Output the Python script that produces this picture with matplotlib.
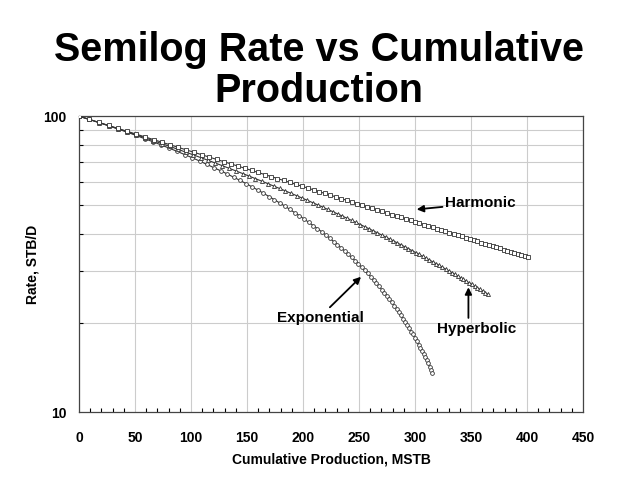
import matplotlib
matplotlib.use("Agg")
import matplotlib.pyplot as plt
from matplotlib.ticker import FixedLocator, NullFormatter, MultipleLocator

plt.rcParams['font.family'] = ['Liberation Sans', 'DejaVu Sans']

# Exponential decline (circles)
exp_np = [0, 9.01, 17.80, 26.37, 34.73, 42.89, 50.84, 58.60, 66.16, 73.54, 80.74, 87.76, 94.60,
          101.28, 107.79, 114.14, 120.33, 126.37, 132.27, 138.01, 143.62, 149.08, 154.41, 159.61,
          164.68, 169.63, 174.45, 179.16, 183.74, 188.22, 192.58, 196.84, 200.99, 205.05, 209.00,
          212.85, 216.60, 220.27, 223.84, 227.33, 230.72, 234.04, 237.27, 240.43, 243.50, 246.50,
          249.43, 252.28, 255.07, 257.78, 260.43, 263.01, 265.53, 267.98, 270.38, 272.71, 274.99,
          277.21, 279.38, 281.50, 283.56, 285.57, 287.53, 289.44, 291.31, 293.13, 294.90, 296.63,
          298.32, 299.97, 301.57, 303.14, 304.67, 306.15, 307.61, 309.03, 310.41, 311.75, 313.07,
          314.35, 315.60]
exp_q = [100.0, 97.5, 95.1, 92.8, 90.5, 88.3, 86.1, 83.9, 81.9, 79.9, 77.9, 76.0, 74.1, 72.3, 70.5,
         68.7, 67.0, 65.4, 63.8, 62.2, 60.7, 59.2, 57.7, 56.3, 54.9, 53.5, 52.2, 50.9, 49.7, 48.4,
         47.2, 46.1, 44.9, 43.8, 42.7, 41.7, 40.7, 39.7, 38.7, 37.7, 36.8, 35.9, 35.0, 34.1, 33.3,
         32.5, 31.7, 30.9, 30.1, 29.4, 28.7, 27.9, 27.3, 26.6, 25.9, 25.3, 24.7, 24.1, 23.5, 22.9,
         22.3, 21.8, 21.2, 20.7, 20.2, 19.7, 19.2, 18.7, 18.3, 17.8, 17.4, 16.9, 16.5, 16.1, 15.7,
         15.3, 15.0, 14.6, 14.2, 13.9, 13.5]

# Hyperbolic decline (triangles)
hyp_np = [0, 9.01, 17.80, 26.38, 34.76, 42.94, 50.93, 58.74, 66.36, 73.82, 81.11, 88.24, 95.21,
          102.04, 108.72, 115.26, 121.67, 127.94, 134.08, 140.10, 146.00, 151.78, 157.45, 163.01,
          168.46, 173.81, 179.06, 184.21, 189.26, 194.22, 199.09, 203.87, 208.57, 213.19, 217.72,
          222.17, 226.55, 230.85, 235.08, 239.24, 243.33, 247.35, 251.31, 255.20, 259.03, 262.80,
          266.51, 270.16, 273.75, 277.28, 280.77, 284.20, 287.58, 290.90, 294.18, 297.41, 300.59,
          303.72, 306.81, 309.86, 312.86, 315.81, 318.73, 321.61, 324.44, 327.24, 330.00, 332.72,
          335.41, 338.06, 340.67, 343.25, 345.79, 348.30, 350.78, 353.23, 355.64, 358.03, 360.38,
          362.71, 365.00]
hyp_q = [100.0, 97.55, 95.18, 92.90, 90.70, 88.58, 86.53, 84.56, 82.64, 80.80, 79.01, 77.29, 75.61,
         74.00, 72.43, 70.91, 69.44, 68.02, 66.64, 65.30, 64.00, 62.74, 61.51, 60.33, 59.17, 58.05,
         56.96, 55.90, 54.87, 53.87, 52.89, 51.94, 51.02, 50.12, 49.25, 48.39, 47.56, 46.75, 45.96,
         45.19, 44.44, 43.71, 43.00, 42.30, 41.62, 40.96, 40.31, 39.68, 39.06, 38.46, 37.87, 37.29,
         36.73, 36.18, 35.64, 35.12, 34.60, 34.10, 33.61, 33.12, 32.65, 32.19, 31.74, 31.30, 30.86,
         30.44, 30.02, 29.62, 29.22, 28.83, 28.44, 28.07, 27.70, 27.34, 26.99, 26.64, 26.30, 25.96,
         25.64, 25.32, 25.00]

# Harmonic decline (squares)
har_np = [0, 9.01, 17.81, 26.40, 34.79, 42.99, 51.01, 58.86, 66.55, 74.07, 81.45, 88.68, 95.76,
          102.71, 109.54, 116.23, 122.81, 129.27, 135.62, 141.86, 148.00, 154.03, 159.96, 165.80,
          171.55, 177.21, 182.78, 188.27, 193.68, 199.01, 204.26, 209.44, 214.54, 219.58, 224.54,
          229.44, 234.28, 239.05, 243.76, 248.41, 253.00, 257.53, 262.01, 266.44, 270.81, 275.13,
          279.40, 283.62, 287.79, 291.91, 295.99, 300.02, 304.01, 307.96, 311.86, 315.73, 319.55,
          323.33, 327.07, 330.78, 334.45, 338.08, 341.67, 345.24, 348.76, 352.25, 355.71, 359.14,
          362.54, 365.90, 369.23, 372.54, 375.81, 379.06, 382.27, 385.46, 388.62, 391.75, 394.86,
          397.94, 400.99]
har_q = [100.0, 97.56, 95.24, 93.02, 90.91, 88.89, 86.96, 85.11, 83.33, 81.63, 80.00, 78.43, 76.92,
         75.47, 74.07, 72.73, 71.43, 70.18, 68.97, 67.80, 66.67, 65.57, 64.52, 63.49, 62.50, 61.54,
         60.61, 59.70, 58.82, 57.97, 57.14, 56.34, 55.56, 54.79, 54.05, 53.33, 52.63, 51.95, 51.28,
         50.63, 50.00, 49.38, 48.78, 48.19, 47.62, 47.06, 46.51, 45.98, 45.45, 44.94, 44.44, 43.96,
         43.48, 43.01, 42.55, 42.11, 41.67, 41.24, 40.82, 40.40, 40.00, 39.60, 39.22, 38.83, 38.46,
         38.10, 37.74, 37.38, 37.04, 36.70, 36.36, 36.04, 35.71, 35.40, 35.09, 34.78, 34.48, 34.19,
         33.90, 33.61, 33.33]

x_ticks = [0, 50, 100, 150, 200, 250, 300, 350, 400, 450]
y_ticks = [10, 100]

fig = plt.figure(figsize=(6.38, 4.78), dpi=100)
ax = fig.add_axes([0.1238, 0.138, 0.79, 0.619])

common = dict(color='#333333', lw=0.8, mfc='white', mec='#333333', mew=0.6, zorder=3)
ax.plot(exp_np, exp_q, marker='o', ms=2.7, **common)
ax.plot(hyp_np, hyp_q, marker='^', ms=2.9, **common)
ax.plot(har_np, har_q, marker='s', ms=2.5, **common)

ax.set_yscale('log')
ax.set_xlim(0, 450)
ax.set_ylim(10, 100)
ax.xaxis.set_major_locator(FixedLocator(x_ticks))
ax.xaxis.set_minor_locator(MultipleLocator(10))
ax.yaxis.set_major_locator(FixedLocator(y_ticks))
ax.yaxis.set_minor_locator(FixedLocator([20, 30, 40, 50, 60, 70, 80, 90]))
ax.yaxis.set_minor_formatter(NullFormatter())
ax.set_yticklabels([str(v) for v in y_ticks])
ax.set_xticklabels([str(v) for v in x_ticks])

ax.grid(True, which='major', axis='x', color='#cccccc', lw=0.8)
ax.grid(True, which='minor', axis='y', color='#cccccc', lw=0.8)
ax.grid(False, which='minor', axis='x')
ax.set_axisbelow(True)

ax.tick_params(which='both', direction='in', labelsize=10, colors='black', width=0.8)
ax.tick_params(which='major', length=0)
ax.tick_params(axis='x', which='minor', length=3)
ax.tick_params(axis='y', which='minor', length=3)
ax.tick_params(axis='x', which='major', pad=14)
ax.tick_params(axis='y', which='major', pad=9)
for lab in ax.get_xticklabels() + ax.get_yticklabels():
    lab.set_fontweight('bold')
for s in ax.spines.values():
    s.set_color('#444444')
    s.set_linewidth(0.9)

ax.set_xlabel('Cumulative Production, MSTB', fontsize=10, fontweight='bold', labelpad=5)
ax.set_ylabel('Rate, STB/D', fontsize=10, fontweight='bold', labelpad=3)

fig.text(0.5, 0.852, 'Semilog Rate vs Cumulative\nProduction', ha='center', va='center',
         fontsize=28.5, fontweight='bold', linespacing=1.1)

arrow = dict(arrowstyle='-|>', color='black', lw=1.3, mutation_scale=10, shrinkA=0, shrinkB=0)
ax.annotate('Harmonic', xy=(301.5, 48.4), xytext=(327, 50.8), fontsize=11, fontweight='bold',
            ha='left', va='center', arrowprops=arrow)
ax.annotate('', xy=(251.8, 28.65), xytext=(224, 22.6), arrowprops=arrow)
ax.text(216, 20.8, 'Exponential', fontsize=11, fontweight='bold', ha='center', va='center')
ax.annotate('', xy=(347.7, 26.4), xytext=(347.7, 20.8), arrowprops=arrow)
ax.text(355.4, 19.1, 'Hyperbolic', fontsize=11, fontweight='bold', ha='center', va='center')

fig.savefig('out.png', dpi=100)
